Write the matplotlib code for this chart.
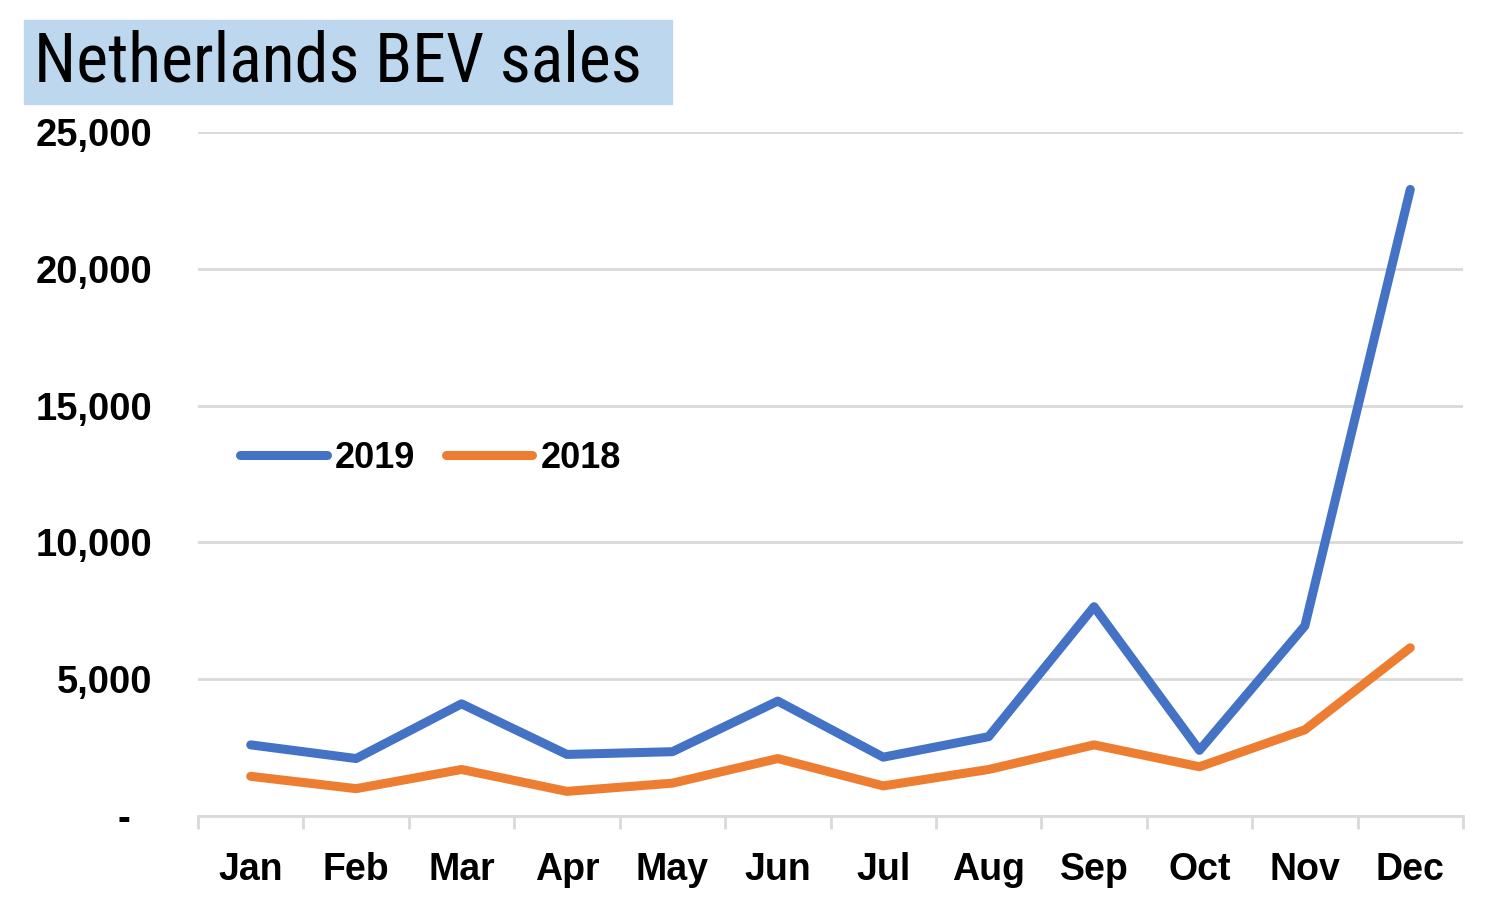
import numpy as np
import matplotlib
matplotlib.use("Agg")
import matplotlib.pyplot as plt
from matplotlib.patches import Rectangle
from matplotlib import font_manager

plt.rcParams['font.family'] = ['Liberation Sans', 'DejaVu Sans']

months = ['Jan', 'Feb', 'Mar', 'Apr', 'May', 'Jun',
          'Jul', 'Aug', 'Sep', 'Oct', 'Nov', 'Dec']
sales_2019 = [2600, 2100, 4100, 2250, 2350, 4200, 2150, 2900, 7650, 2400, 6950, 22900]
sales_2018 = [1450, 1000, 1700, 900, 1200, 2100, 1100, 1700, 2600, 1800, 3150, 6150]
yticks = [0, 5000, 10000, 15000, 20000, 25000]

blue = '#4472C4'
orange = '#ED7D31'
grid = '#D9D9D9'

# pick a narrow face for the title if one is around
names = set(f.name for f in font_manager.fontManager.ttflist)
title_fam = 'Liberation Sans'
for cand in ['Liberation Sans Narrow', 'Roboto Condensed', 'DejaVu Sans Condensed']:
    if cand in names:
        title_fam = cand
        break

fig = plt.figure(figsize=(15.08, 9), dpi=100)
ax = fig.add_axes([198/1508, 84/900, (1463-198)/1508, (816-132)/900])

x = np.arange(len(months))
l1, = ax.plot(x, sales_2019, color=blue, lw=6.5, solid_capstyle='round',
              solid_joinstyle='round', label='2019')
l2, = ax.plot(x, sales_2018, color=orange, lw=6.5, solid_capstyle='round',
              solid_joinstyle='round', label='2018')

ax.set_xlim(-0.5, 11.5)
ax.set_ylim(0, 25000)

ax.set_yticks(yticks)
ax.set_yticklabels(['-  '] + ['{:,}'.format(v) for v in yticks[1:]])
ax.tick_params(axis='y', length=0, pad=33, labelsize=27.5)
for lab in ax.get_yticklabels():
    lab.set_fontweight('bold')
ax.yaxis.grid(True, color=grid, lw=2)
ax.set_axisbelow(True)

ax.set_xticks(x)
ax.set_xticklabels(months, fontsize=27, fontweight='bold')
ax.tick_params(axis='x', which='major', length=0, pad=26)
ax.set_xticks(np.arange(-0.5, 12, 1), minor=True)
ax.tick_params(axis='x', which='minor', length=9, width=2, color=grid, direction='out')

for s in ['top', 'right', 'left']:
    ax.spines[s].set_visible(False)
ax.spines['bottom'].set_color(grid)
ax.spines['bottom'].set_linewidth(2)

leg = ax.legend(handles=[l1, l2], ncol=2, frameon=False,
                loc='center left', bbox_to_anchor=(240/1508, (900-458)/900),
                bbox_transform=fig.transFigure, borderpad=0, borderaxespad=0,
                handlelength=2.4, handletextpad=0.22, columnspacing=0.85,
                prop={'size': 26, 'weight': 'bold'})

fig.patches.append(Rectangle((24/1508, (900-104)/900), 648/1508, 84/900,
                             transform=fig.transFigure, color='#BDD7EE', zorder=0))
fig.text(34/1508, (900-62)/900, 'Netherlands BEV sales', fontsize=49,
         family=[title_fam, 'Liberation Sans'], fontweight='normal',
         va='center', ha='left', color='black')

fig.savefig('out.png', dpi=100)
